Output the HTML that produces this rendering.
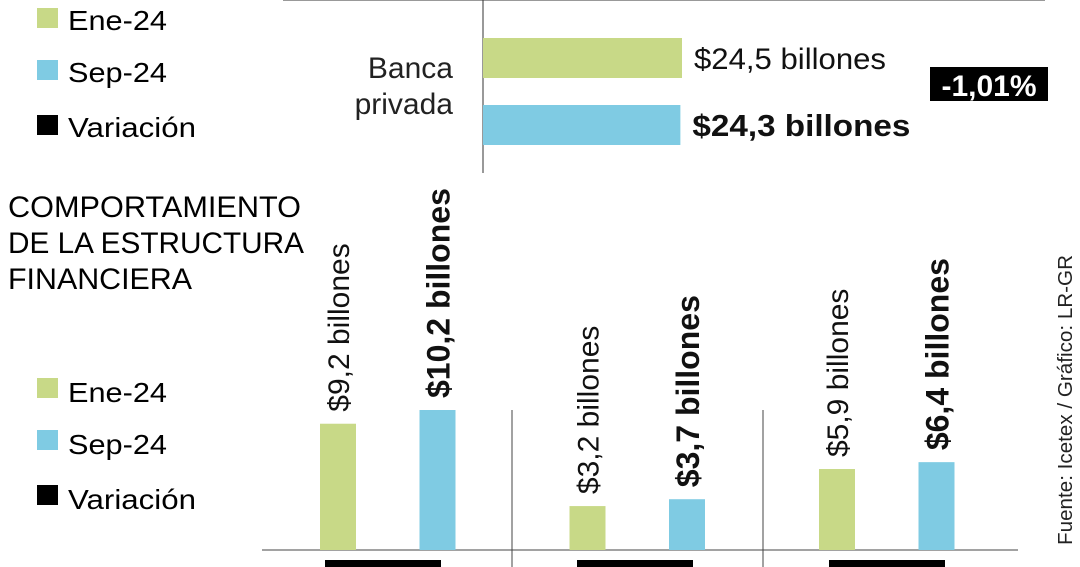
<!DOCTYPE html>
<html><head><meta charset="utf-8"><style>
body{margin:0;background:#fff;}
svg{display:block;font-family:"Liberation Sans",sans-serif;}
</style></head><body>
<svg id="c" width="1080" height="567" viewBox="0 0 1080 567">
<g>
<rect x="37" y="8" width="21" height="20" fill="#c8d987"/>
<text x="68" y="30" font-size="28" textLength="99" lengthAdjust="spacingAndGlyphs">Ene-24</text>
<rect x="37" y="60" width="21" height="20" fill="#7fcbe3"/>
<text x="68" y="82" font-size="28" textLength="99" lengthAdjust="spacingAndGlyphs">Sep-24</text>
<rect x="37" y="115" width="21" height="20" fill="#000"/>
<text x="68" y="137" font-size="28" textLength="128" lengthAdjust="spacingAndGlyphs">Variación</text>
</g>
<g font-size="30">
<text x="8" y="217" textLength="293" lengthAdjust="spacingAndGlyphs">COMPORTAMIENTO</text>
<text x="8" y="253" textLength="296" lengthAdjust="spacingAndGlyphs">DE LA ESTRUCTURA</text>
<text x="8" y="289" textLength="184" lengthAdjust="spacingAndGlyphs">FINANCIERA</text>
</g>
<g>
<rect x="37" y="378" width="21" height="20" fill="#c8d987"/>
<text x="68" y="402" font-size="28" textLength="99" lengthAdjust="spacingAndGlyphs">Ene-24</text>
<rect x="37" y="430" width="21" height="20" fill="#7fcbe3"/>
<text x="68" y="454" font-size="28" textLength="99" lengthAdjust="spacingAndGlyphs">Sep-24</text>
<rect x="37" y="485" width="21" height="20" fill="#000"/>
<text x="68" y="509" font-size="28" textLength="128" lengthAdjust="spacingAndGlyphs">Variación</text>
</g>
<line x1="283" y1="0.5" x2="1045" y2="0.5" stroke="#999"/>
<line x1="483" y1="0" x2="483" y2="173" stroke="#333"/>
<text x="453" y="78" font-size="30" text-anchor="end" fill="#222">Banca</text>
<text x="453" y="114" font-size="30" text-anchor="end" fill="#222">privada</text>
<rect x="930" y="67" width="118" height="34" fill="#000"/>
<text x="989" y="96" font-size="30" font-weight="bold" fill="#fff" text-anchor="middle">-1,01%</text>
<line x1="262" y1="550" x2="1018" y2="550" stroke="#444"/>
<line x1="512" y1="410" x2="512" y2="567" stroke="#444"/>
<line x1="763" y1="410" x2="763" y2="567" stroke="#444"/>
<text transform="translate(1072,545) rotate(-90)" font-size="20" textLength="290" lengthAdjust="spacingAndGlyphs" fill="#222">Fuente: Icetex / Gráfico: LR-GR</text>
<g id="plot"></g>
</svg>
<script>
const hCats=["Ene-24","Sep-24"];
const hVals=[24.5,24.3];
const hLabels=["$24,5 billones","$24,3 billones"];
const vEne=[9.2,3.2,5.9];
const vSep=[10.2,3.7,6.4];
const vEneLabels=["$9,2 billones","$3,2 billones","$5,9 billones"];
const vSepLabels=["$10,2 billones","$3,7 billones","$6,4 billones"];
const groups=["grupo-1","grupo-2","grupo-3"];
const NS="http://www.w3.org/2000/svg";
const plot=document.getElementById('plot');
const hx=v=>v*(199/24.5);
const vy=v=>v*(140/10.2);
function mk(tag,attrs){const e=document.createElementNS(NS,tag);for(const k in attrs)e.setAttribute(k,attrs[k]);plot.appendChild(e);return e;}
const colors=["#c8d987","#7fcbe3"];
hVals.forEach((v,i)=>{
  const y=38+i*67;
  const r=mk('rect',{x:483,y:y,width:hx(v),height:40,fill:colors[i]});
  
  
  const t=mk('text',{x:483+hx(v)+12,y:y+31,'font-size':i?31:30,fill:'#111','font-weight':i?'bold':'normal',textLength:i?218:192,lengthAdjust:'spacingAndGlyphs'});
  t.textContent=hLabels[i];
  
  
});
groups.forEach((g,i)=>{
  const x0=320+i*249.5;
  [[vEne,vEneLabels,0],[vSep,vSepLabels,1]].forEach(([vals,labs,s])=>{
    const x=x0+s*99.5, h=vy(vals[i]);
    const r=mk('rect',{x:x,y:550-h,width:36,height:h,fill:colors[s]});
    
    
    const t=mk('text',{transform:`translate(${x+(s?30:29)},${550-h-12}) rotate(-90)`,'font-size':s?32:30,'font-weight':s?'bold':'normal',fill:'#111'});
    t.textContent=labs[i];
    
    
  });
  const b=mk('rect',{x:325+i*252,y:560,width:116,height:7,fill:'#000'});
  
  
});
</script>
</body></html>
